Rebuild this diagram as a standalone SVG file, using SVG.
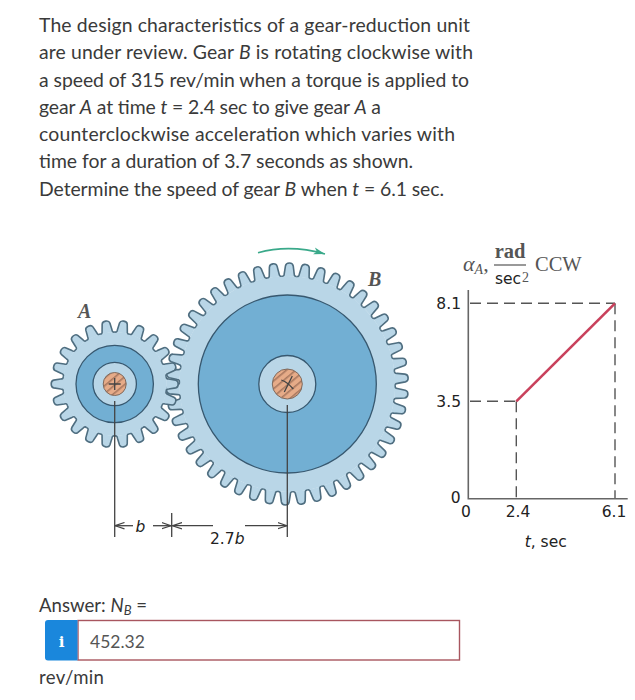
<svg xmlns="http://www.w3.org/2000/svg" width="635" height="700" viewBox="0 0 635 700">
<style>
.q{font-family:Lato,"Liberation Sans",sans-serif;font-size:19.4px;fill:#3a3a3a}
.a{font-family:Lato,"Liberation Sans",sans-serif;font-size:18.6px;fill:#3a3a3a}
.d{font-family:"DejaVu Sans",sans-serif;font-size:15.5px;fill:#222}
.s{font-family:"Liberation Serif",serif;fill:#555}
.tooth{fill:#b9d6e7;stroke:#4f6e80;stroke-width:1.6;stroke-linejoin:round}
.body{fill:#b9d6e7}
.ring{fill:#72afd3;stroke:#37586f;stroke-width:1.3}
.inner{fill:#b9d6e7;stroke:#37586f;stroke-width:1.3}
.hub{fill:url(#hatch);stroke:#7d6a5e;stroke-width:1}
.ln{stroke:#444;stroke-width:1.3;fill:none}
.dash{stroke:#555;stroke-width:1.4;fill:none;stroke-dasharray:11 6}
.ax{stroke:#666;stroke-width:1.6;fill:none}
</style>
<defs>
<filter id="soft" x="-5%" y="-5%" width="110%" height="110%"><feGaussianBlur stdDeviation="0.35"/></filter>
<pattern id="hatch" width="6" height="6" patternUnits="userSpaceOnUse" patternTransform="rotate(-40)">
<rect width="6" height="6" fill="#e6ab88"/><rect width="6" height="1.6" fill="#a9785f"/>
</pattern>
<path id="ta" class="tooth" d="M-7.5 -51.6Q-5 -51 -5 -54L-3.9 -61Q-3.4 -63.5 0 -63.5Q3.4 -63.5 3.9 -61L5 -54Q5 -51 7.5 -51.6"/>
<path id="tb" class="tooth" d="M-7.4 -107.7Q-5 -107.5 -5 -110L-3.9 -118Q-3.4 -121 0 -121Q3.4 -121 3.9 -118L5 -110Q5 -107.5 7.4 -107.7"/>
<g id="halfa">
<use href="#ta" transform="rotate(8.18)"/><use href="#ta" transform="rotate(24.55)"/><use href="#ta" transform="rotate(40.91)"/><use href="#ta" transform="rotate(57.27)"/><use href="#ta" transform="rotate(73.64)"/><use href="#ta" transform="rotate(90)"/><use href="#ta" transform="rotate(106.36)"/><use href="#ta" transform="rotate(122.73)"/><use href="#ta" transform="rotate(139.09)"/><use href="#ta" transform="rotate(155.45)"/><use href="#ta" transform="rotate(171.82)"/>
</g>
<g id="halfb">
<use href="#tb"/><use href="#tb" transform="rotate(7.83)"/><use href="#tb" transform="rotate(15.65)"/><use href="#tb" transform="rotate(23.48)"/><use href="#tb" transform="rotate(31.3)"/><use href="#tb" transform="rotate(39.13)"/><use href="#tb" transform="rotate(46.96)"/><use href="#tb" transform="rotate(54.78)"/><use href="#tb" transform="rotate(62.61)"/><use href="#tb" transform="rotate(70.43)"/><use href="#tb" transform="rotate(78.26)"/><use href="#tb" transform="rotate(86.09)"/><use href="#tb" transform="rotate(93.91)"/><use href="#tb" transform="rotate(101.74)"/><use href="#tb" transform="rotate(109.57)"/><use href="#tb" transform="rotate(117.39)"/><use href="#tb" transform="rotate(125.22)"/><use href="#tb" transform="rotate(133.04)"/><use href="#tb" transform="rotate(140.87)"/><use href="#tb" transform="rotate(148.7)"/><use href="#tb" transform="rotate(156.52)"/><use href="#tb" transform="rotate(164.35)"/><use href="#tb" transform="rotate(172.17)"/>
</g>
<marker id="arr" viewBox="0 0 10 8" refX="9.5" refY="4" markerWidth="10" markerHeight="8" markerUnits="userSpaceOnUse" orient="auto"><path d="M0 0.8L9.5 4L0 7.2" fill="none" stroke="#444" stroke-width="1.2"/></marker>
<marker id="garr" viewBox="0 0 12 8" refX="11.5" refY="4" markerWidth="12" markerHeight="8" markerUnits="userSpaceOnUse" orient="auto"><path d="M0 0.5L11.5 4L0 7.5L3 4Z" fill="#3aa98a"/></marker>
</defs>
<rect width="635" height="700" fill="#fff"/>

<g id="question">
<text class="q" x="39" y="32" textLength="431">The design characteristics of a gear-reduction unit</text>
<text class="q" x="39" y="59" textLength="434">are under review. Gear <tspan font-style="italic">B</tspan> is rotating clockwise with</text>
<text class="q" x="39" y="87" textLength="430">a speed of 315 rev/min when a torque is applied to</text>
<text class="q" x="39" y="114" textLength="342">gear <tspan font-style="italic">A</tspan> at time <tspan font-style="italic">t</tspan> = 2.4 sec to give gear <tspan font-style="italic">A</tspan> a</text>
<text class="q" x="39" y="141" textLength="416">counterclockwise acceleration which varies with</text>
<text class="q" x="39" y="168" textLength="374">time for a duration of 3.7 seconds as shown.</text>
<text class="q" x="39" y="196" textLength="405">Determine the speed of gear <tspan font-style="italic">B</tspan> when <tspan font-style="italic">t</tspan> = 6.1 sec.</text>
</g>

<g id="gear-b" transform="translate(287.3 384)" filter="url(#soft)">
<circle class="body" r="108"/>
<g transform="rotate(1)"><use href="#halfb"/><use href="#halfb" transform="rotate(180)"/></g>
<circle class="ring" r="89"/>
<circle class="inner" r="28.5"/>
<circle class="hub" r="15"/>
<path class="ln" d="M-6 -4Q0 -2 6 5M5 -8Q1 0 -3 8"/>
</g>
<g id="gear-a" transform="translate(114.7 384)" filter="url(#soft)">
<circle class="body" r="52"/>
<use href="#halfa"/><use href="#halfa" transform="rotate(180)"/>
<circle class="ring" r="38.7"/>
<circle class="inner" r="21.7"/>
<circle class="hub" r="11.5"/>
<path class="ln" d="M-6 0H6M0 -6V6"/>
</g>
<text id="label-a" class="s" x="78" y="318" font-size="20" font-weight="bold" font-style="italic">A</text>
<text id="label-b" class="s" x="368" y="286" font-size="20" font-weight="bold" font-style="italic">B</text>

<g id="connectors">
<path d="M258 252.7Q290 244 325 254" fill="none" stroke="#3aa98a" stroke-width="1.6" marker-end="url(#garr)"/>
<path class="ln" d="M114.7 401V537M287.3 405V537M171.7 513V537"/>
<path class="ln" d="M133 525.7H115" marker-end="url(#arr)"/>
<path class="ln" d="M153 525.7H171" marker-end="url(#arr)"/>
<path class="ln" d="M213 525.7H172.5" marker-end="url(#arr)"/>
<path class="ln" d="M245 525.7H287" marker-end="url(#arr)"/>
</g>
<text class="d" x="135.5" y="532" font-style="italic" font-size="17">b</text>
<text class="d" x="210" y="544" font-size="16.5">2.7<tspan font-style="italic">b</tspan></text>

<g id="chart">
<path class="dash" d="M470 303.3H615M615 303.3V498M470 401.3H516M516.3 401.3V498"/>
<path class="ax" d="M468.3 290V498.7H627.7"/>
<path d="M516.3 401.3L615 303.3" stroke="#c9415c" stroke-width="2.6" fill="none"/>
<text class="d" x="461" y="309" text-anchor="end" font-size="16">8.1</text>
<text class="d" x="461" y="407" text-anchor="end" font-size="16">3.5</text>
<text class="d" x="460.5" y="503" text-anchor="end" font-size="16">0</text>
<text class="d" x="466" y="517" text-anchor="middle" font-size="16">0</text>
<text class="d" x="518" y="517" text-anchor="middle" font-size="16">2.4</text>
<text class="d" x="614" y="517" text-anchor="middle" font-size="16">6.1</text>
<text class="d" x="545.7" y="546.5" text-anchor="middle" font-size="16"><tspan font-style="italic">t</tspan>, sec</text>
<text class="s" x="463" y="271" font-size="22" font-style="italic">α<tspan font-size="14" dy="3">A</tspan><tspan dy="-3" font-style="normal">,</tspan></text>
<text class="s" x="510" y="257.5" font-size="20.5" font-weight="bold" text-anchor="middle">rad</text>
<path d="M494 265H526" stroke="#555" stroke-width="1.2"/>
<text class="d" x="495" y="284" font-size="15.5">sec</text>
<text class="s" x="522" y="282" font-size="14">2</text>
<text class="s" x="535" y="271" font-size="20.5">CCW</text>
</g>

<g id="answer">
<text class="a" x="39" y="612">Answer: <tspan font-style="italic">N</tspan><tspan font-style="italic" font-size="13" dy="3">B</tspan><tspan dy="-3"> =</tspan></text>
<rect x="78" y="620.5" width="381.5" height="39.5" fill="#fff" stroke="#a8565f" stroke-width="1.4"/>
<path d="M48 620H77.5V660.5H48Q45 660.5 45 657.5V623Q45 620 48 620Z" fill="#1a87dc"/>
<text x="61.5" y="647" font-family="'DejaVu Serif',serif" font-weight="bold" font-size="15" fill="#fff" text-anchor="middle">i</text>
<text class="a" x="90" y="647.5" style="fill:#555;font-size:17.5px">452.32</text>
<text class="a" x="39" y="684" textLength="65">rev/min</text>
</g>
</svg>
